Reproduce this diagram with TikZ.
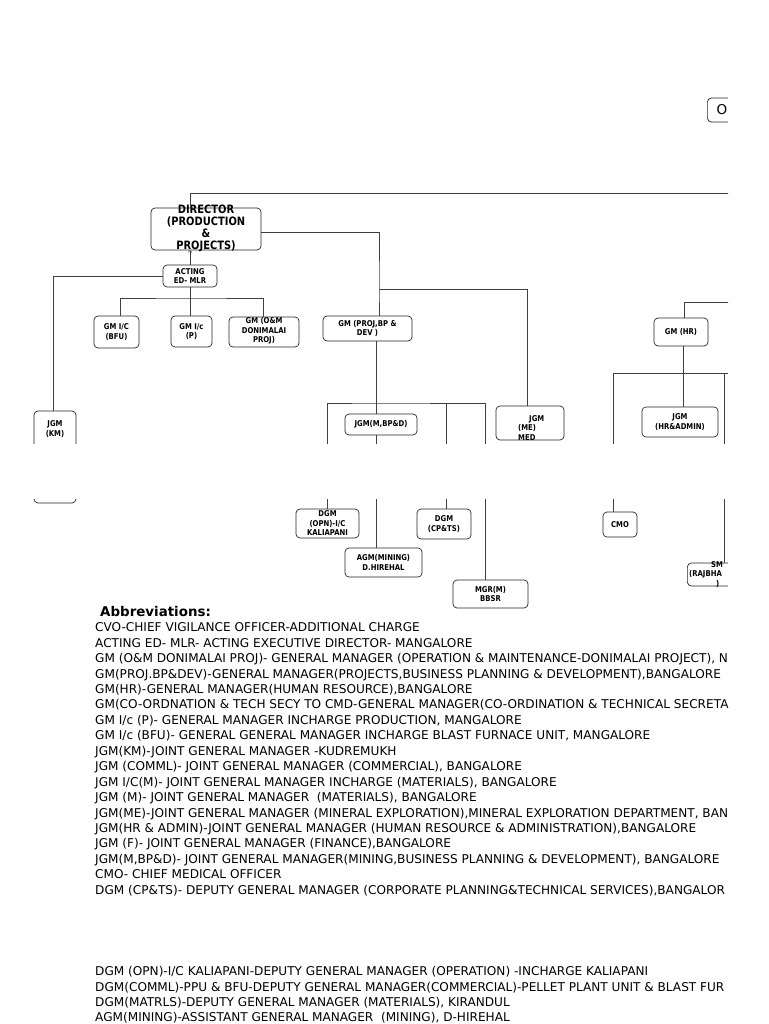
\documentclass[tikz,border=0pt]{standalone}
\usepackage{fontspec}
\setmainfont{DejaVu Sans}[FakeStretch=0.86]
\newfontfamily\headfont{DejaVu Sans}
\newfontfamily\listfont{DejaVu Sans}
\usetikzlibrary{arrows,positioning}

\begin{document}
\begin{tikzpicture}[x=1pt,y=-1pt,shorten >=0pt,>=to]
       \tikzstyle{box}=[draw=black!85, line width=0.7pt, rounded corners=4pt, inner sep=0pt, align=center, font=\fontsize{8}{9.5}\selectfont\bfseries]
       \tikzstyle{lbl}=[inner sep=0pt, align=center, font=\fontsize{8}{9.5}\selectfont\bfseries]
       \tikzstyle{wire}=[draw=black!75, line width=0.6pt]
       \tikzstyle{abbr}=[inner sep=0pt, anchor=north west, align=left, font=\listfont\fontsize{12.1}{15.45}\selectfont]

       \useasboundingbox (0,0) rectangle (768,1024);
       \begin{scope}
       \clip (0,0) rectangle (728,1024);

       % chart boxes
       \node[box, minimum width=90pt, minimum height=24pt, anchor=west] (chart_title) at (707,110) {};
       \node[font=\headfont\fontsize{13.5}{15}\selectfont, inner sep=0pt] (title_txt) at (722,110) {O};

       \node[box, minimum width=110pt, minimum height=42pt] (dir_pp) at (206,229) {};
       \node[lbl, font=\fontsize{11.5}{12}\selectfont\bfseries] (dir_txt) at (206,228.5) {DIRECTOR\\(PRODUCTION\\\&\\PROJECTS)};

       \node[box, minimum width=54pt, minimum height=22pt] (acting_ed) at (190,276)   {ACTING\\ED- MLR};
       \node[box, minimum width=45pt, minimum height=32pt] (gm_bfu)    at (116.5,332) {GM I/C\\(BFU)};
       \node[box, minimum width=41pt, minimum height=31pt] (gm_p)      at (191.5,331.5) {GM I/c\\(P)};
       \node[box, minimum width=70pt, minimum height=30pt] (gm_om)     at (264,332)   {};
       \node[lbl] (om_txt) at (264,331) {GM (O\&M\\DONIMALAI\\PROJ)};
       \node[box, minimum width=42pt, minimum height=92pt] (jgm_km)    at (55,457)    {};
       \node[lbl] (km_txt) at (55,429) {JGM\\(KM)};

       \node[box, minimum width=89pt, minimum height=25pt] (gm_proj)   at (367.5,328.5) {GM (PROJ,BP \&\\DEV )};
       \node[box, minimum width=72pt, minimum height=21pt] (jgm_mbpd)  at (381,424.5) {JGM(M,BP\&D)};
       \node[box, minimum width=68pt, minimum height=34pt] (jgm_me)    at (530,423)   {};
       \node[lbl, align=left, anchor=west] (me_txt) at (518,428) {\hspace*{11pt}JGM\\(ME)\\MED};
       \node[box, minimum width=63pt, minimum height=29pt] (dgm_opn)   at (327.5,523.5) {DGM\\(OPN)-I/C\\KALIAPANI};
       \node[box, minimum width=77pt, minimum height=29pt] (agm_min)   at (383.5,562.5) {AGM(MINING)\\D.HIREHAL};
       \node[box, minimum width=54pt, minimum height=30pt] (dgm_cpts)  at (444,524)   {DGM\\(CP\&TS)};
       \node[box, minimum width=75pt, minimum height=28pt] (mgr_m)     at (490.5,594) {MGR(M)\\BBSR};

       \node[box, minimum width=54pt, minimum height=28pt] (gm_hr)     at (681,332)   {GM (HR)};
       \node[box, minimum width=76pt, minimum height=30pt] (jgm_hra)   at (680,422)   {JGM\\(HR\&ADMIN)};
       \node[box, minimum width=34pt, minimum height=25pt] (cmo)       at (620,524.5) {CMO};
       \node[box, minimum width=80pt, minimum height=23pt, anchor=west] (sm_rb) at (687,574.5) {};
       \node[lbl, align=left, anchor=north west] (sm_txt) at (689,561) {\hspace*{22pt}SM\\(RAJBHA\\\hspace*{27pt})};

       % bus points
       \coordinate (top_end)  at (780,193);
       \coordinate (proj_bus) at (379,289);
       \coordinate (ed_bus)   at (190,298);
       \coordinate (mbpd_bus) at (376,403);
       \coordinate (hr_top)   at (780,302);
       \coordinate (hr_bus)   at (780,373);

       % connectors
       \draw[wire] (acting_ed.north |- dir_pp.north) |- (top_end);
       \draw[wire,->] (acting_ed.north) -- (acting_ed.north |- dir_pp.south);
       \draw[wire] ([yshift=-3pt]dir_pp.east) -| (proj_bus) -- ([xshift=11.5pt]gm_proj.north);
       \draw[wire] (proj_bus) -| ([xshift=-3pt]jgm_me.north);
       \draw[wire] (acting_ed.west) -| ([xshift=-2pt]jgm_km.north);
       \draw[wire] (acting_ed.south) -- (acting_ed.south |- gm_p.north);
       \draw[wire] ([xshift=3.5pt]gm_bfu.north) |- (ed_bus) -| ([xshift=-1pt]gm_om.north);

       \draw[wire] ([xshift=8.5pt]gm_proj.south) -- (mbpd_bus);
       \draw[wire] (dgm_opn.north) |- (mbpd_bus) -| ([xshift=-5.5pt]mgr_m.north);
       \draw[wire] (mbpd_bus) -- ([xshift=-5pt]jgm_mbpd.north);
       \draw[wire] ([xshift=-5pt]jgm_mbpd.south) -- ([xshift=-7.5pt]agm_min.north);
       \draw[wire] ([xshift=2pt]dgm_cpts.north) -- ([xshift=2pt]dgm_cpts.north |- mbpd_bus);

       \draw[wire] ([xshift=3pt]gm_hr.north) |- (hr_top);
       \draw[wire] ([xshift=2pt]gm_hr.south) -- ([xshift=2pt]gm_hr.south |- hr_bus);
       \draw[wire] ([xshift=-7pt]cmo.north) |- (hr_bus);
       \draw[wire] ([xshift=3pt]jgm_hra.north) -- ([xshift=3pt]jgm_hra.north |- hr_bus);
       \draw[wire] ([xshift=37pt]sm_rb.north west) -- ([xshift=37pt]sm_rb.north west |- hr_bus);

       % blank band across the chart
       \fill[white] (-5,444) rectangle (780,498.5);

       % abbreviations
       \node[font=\headfont\fontsize{13.4}{15}\selectfont\bfseries, anchor=west, inner sep=0pt] (abbr_head) at (100,611) {Abbreviations:};
       \node[abbr] (abbr_list) at (95,622.5) {CVO-CHIEF VIGILANCE OFFICER-ADDITIONAL CHARGE\\
ACTING ED- MLR- ACTING EXECUTIVE DIRECTOR- MANGALORE\\
GM (O\&M DONIMALAI PROJ)- GENERAL MANAGER (OPERATION \& MAINTENANCE-DONIMALAI PROJECT), N\\
GM(PROJ.BP\&DEV)-GENERAL MANAGER(PROJECTS,BUSINESS PLANNING \& DEVELOPMENT),BANGALORE\\
GM(HR)-GENERAL MANAGER(HUMAN RESOURCE),BANGALORE\\
GM(CO-ORDNATION \& TECH SECY TO CMD-GENERAL MANAGER(CO-ORDINATION \& TECHNICAL SECRETA\\
GM I/c (P)- GENERAL MANAGER INCHARGE PRODUCTION, MANGALORE\\
GM I/c (BFU)- GENERAL GENERAL MANAGER INCHARGE BLAST FURNACE UNIT, MANGALORE\\
JGM(KM)-JOINT GENERAL MANAGER -KUDREMUKH\\
JGM (COMML)- JOINT GENERAL MANAGER (COMMERCIAL), BANGALORE\\
JGM I/C(M)- JOINT GENERAL MANAGER INCHARGE (MATERIALS), BANGALORE\\
JGM (M)- JOINT GENERAL MANAGER \ (MATERIALS), BANGALORE\\
JGM(ME)-JOINT GENERAL MANAGER (MINERAL EXPLORATION),MINERAL EXPLORATION DEPARTMENT, BAN\\
JGM(HR \& ADMIN)-JOINT GENERAL MANAGER (HUMAN RESOURCE \& ADMINISTRATION),BANGALORE\\
JGM (F)- JOINT GENERAL MANAGER (FINANCE),BANGALORE\\
JGM(M,BP\&D)- JOINT GENERAL MANAGER(MINING,BUSINESS PLANNING \& DEVELOPMENT), BANGALORE\\
CMO- CHIEF MEDICAL OFFICER\\
DGM (CP\&TS)- DEPUTY GENERAL MANAGER (CORPORATE PLANNING\&TECHNICAL SERVICES),BANGALOR};
       \node[abbr, font=\listfont\fontsize{12.1}{15.3}\selectfont] (abbr_more) at (95,966.5) {DGM (OPN)-I/C KALIAPANI-DEPUTY GENERAL MANAGER (OPERATION) -INCHARGE KALIAPANI\\
DGM(COMML)-PPU \& BFU-DEPUTY GENERAL MANAGER(COMMERCIAL)-PELLET PLANT UNIT \& BLAST FUR\\
DGM(MATRLS)-DEPUTY GENERAL MANAGER (MATERIALS), KIRANDUL\\
AGM(MINING)-ASSISTANT GENERAL MANAGER \ (MINING), D-HIREHAL};
       \end{scope}
\end{tikzpicture}
\end{document}
